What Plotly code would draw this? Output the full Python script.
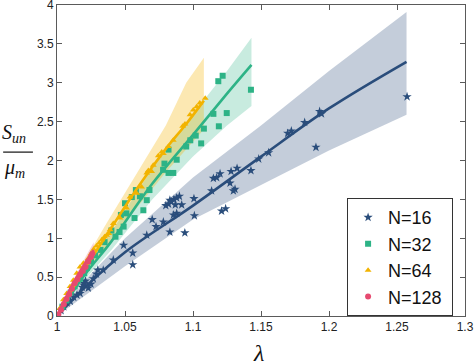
import plotly.graph_objects as go

# ---------------- data ----------------
# N=16 scatter (stars)
n16_lam = [1.2574, 1.1931, 1.1945, 1.1821, 1.1904, 1.1696, 1.1723, 1.1556, 1.1483, 1.1426,
           1.1324, 1.1280, 1.1150, 1.1174, 1.1199, 1.1272, 1.1309, 1.1297, 1.1210, 1.1240,
           1.1007, 1.1137, 1.1010, 1.0940, 1.0880, 1.0856, 1.0917, 1.0800, 1.0820, 1.0840,
           1.0860, 1.0880, 1.0900, 1.0830, 1.0870, 1.0782, 1.0830, 1.0728, 1.0700, 1.0660,
           1.0557, 1.0557, 1.0490, 1.0414, 1.0340, 1.0300, 1.0290, 1.0267, 1.0210, 1.0195,
           1.0185, 1.0200, 1.0170, 1.0147, 1.0123, 1.0098, 1.0074, 1.0050, 1.0030, 1.0230,
           1.0250]
n16_val = [2.82, 2.63, 2.60, 2.49, 2.17, 2.35, 2.38, 2.10, 2.02, 1.87,
           1.90, 1.86, 1.77, 1.78, 1.83, 1.71, 1.63, 1.61, 1.35, 1.38,
           1.51, 1.61, 1.29, 1.07, 1.32, 1.30, 1.43, 1.42, 1.44, 1.47,
           1.50, 1.52, 1.54, 1.49, 1.43, 1.21, 1.08, 1.15, 1.24, 1.04,
           0.66, 0.81, 0.91, 0.72, 0.59, 0.59, 0.54, 0.48, 0.45, 0.40,
           0.37, 0.42, 0.29, 0.27, 0.24, 0.19, 0.17, 0.12, 0.07, 0.36,
           0.41]

# N=32 scatter (squares)
n32_lam = [1.1426, 1.1218, 1.1186, 1.1248, 1.1150, 1.1190, 1.1080, 1.1060, 1.1020, 1.0980,
           1.0950, 1.0880, 1.0820, 1.0820, 1.0855, 1.0780, 1.0790, 1.0680, 1.0635, 1.0660,
           1.0610, 1.0570, 1.0510, 1.0490, 1.0460, 1.0430, 1.0580, 1.0550, 1.0500, 1.0470,
           1.0400, 1.0350, 1.0320, 1.0280, 1.0250, 1.0220, 1.0200, 1.0170, 1.0130, 1.0100,
           1.0070, 1.0040]
n32_val = [2.91, 3.09, 3.02, 2.61, 2.60, 2.44, 2.41, 2.22, 2.32, 2.26,
           2.18, 2.01, 2.14, 1.84, 1.84, 1.88, 1.96, 1.62, 1.36, 1.49,
           1.54, 1.26, 1.32, 1.15, 1.08, 1.02, 1.62, 1.53, 1.45, 1.30,
           1.10, 0.95, 0.85, 0.78, 0.70, 0.62, 0.55, 0.48, 0.38, 0.30,
           0.20, 0.12]

# N=64 scatter (triangles)
n64_lam = [1.1090, 1.1050, 1.1027, 1.1002, 1.0978, 1.0941, 1.0924, 1.0855, 1.0819, 1.0782,
           1.0745, 1.0708, 1.0672, 1.0660, 1.0770, 1.0696, 1.0622, 1.0586, 1.0537, 1.0512,
           1.0463, 1.0414, 1.0390, 1.0365, 1.0330, 1.0310, 1.0290, 1.0350, 1.0380, 1.0270,
           1.0250, 1.0230, 1.0194, 1.0169, 1.0145, 1.0120, 1.0096, 1.0071, 1.0047, 1.0022]
n64_val = [2.80, 2.74, 2.69, 2.65, 2.59, 2.47, 2.44, 2.26, 2.18, 2.09,
           2.06, 1.94, 1.87, 1.84, 2.11, 1.86, 1.66, 1.58, 1.53, 1.39,
           1.26, 1.19, 1.11, 1.04, 0.98, 0.94, 0.90, 1.02, 1.06, 0.86,
           0.80, 0.74, 0.68, 0.63, 0.55, 0.46, 0.38, 0.29, 0.21, 0.10]

# N=128 scatter (circles)
n128_lam = [1.0000, 1.0010, 1.0030, 1.0050, 1.0070, 1.0090, 1.0110, 1.0130, 1.0150, 1.0170,
            1.0190, 1.0210, 1.0230, 1.0250, 1.0260]
n128_val = [0.00, 0.02, 0.08, 0.15, 0.22, 0.28, 0.35, 0.42, 0.47, 0.53,
            0.58, 0.63, 0.70, 0.76, 0.80]

# fitted curves and confidence bands
fit16_lam = [1.0, 1.02, 1.05, 1.10, 1.15, 1.20, 1.257]
fit16_val = [0.0, 0.36, 0.82, 1.42, 2.05, 2.67, 3.27]
fit16_up = [0.0, 0.45, 1.00, 1.78, 2.45, 3.15, 3.91]
fit16_lo = [0.0, 0.26, 0.64, 1.24, 1.68, 2.13, 2.59]

fit32_lam = [1.0, 1.02, 1.04, 1.07, 1.10, 1.125, 1.143]
fit32_val = [0.0, 0.52, 0.96, 1.70, 2.33, 2.86, 3.23]
fit32_up = [0.0, 0.58, 1.08, 1.90, 2.60, 3.15, 3.58]
fit32_lo = [0.0, 0.46, 0.85, 1.50, 2.05, 2.45, 2.70]

fit64_lam = [1.0, 1.02, 1.035, 1.06, 1.08, 1.095, 1.108]
fit64_val = [0.0, 0.60, 1.00, 1.67, 2.15, 2.47, 2.77]
fit64_up = [0.0, 0.70, 1.15, 1.87, 2.45, 3.00, 3.32]
fit64_lo = [0.0, 0.50, 0.85, 1.42, 1.85, 2.15, 2.40]

fit128_lam = [1.0, 1.01, 1.02, 1.027]
fit128_val = [0.0, 0.36, 0.66, 0.85]
fit128_up = [0.0, 0.40, 0.73, 0.95]
fit128_lo = [0.0, 0.32, 0.60, 0.77]

names = ["N=16", "N=32", "N=64", "N=128"]
x_ticks = [1, 1.05, 1.1, 1.15, 1.2, 1.25, 1.3]
x_ticklabels = ["1", "1.05", "1.1", "1.15", "1.2", "1.25", "1.3"]
y_ticks = [0, 0.5, 1, 1.5, 2, 2.5, 3, 3.5, 4]
y_ticklabels = ["0", "0.5", "1", "1.5", "2", "2.5", "3", "3.5", "4"]

# ---------------- styling ----------------
colors = ["#2a4d7b", "#2db386", "#f2b300", "#e64a70"]
band_colors = ["rgba(42,77,123,0.28)", "rgba(43,179,132,0.26)",
               "rgba(245,180,0,0.30)", "rgba(230,74,112,0.25)"]
symbols = ["star", "square", "triangle-up", "circle"]
msizes = [7, 6, 6, 6]

scatter = [(n16_lam, n16_val), (n32_lam, n32_val), (n64_lam, n64_val), (n128_lam, n128_val)]
fits = [(fit16_lam, fit16_val, fit16_up, fit16_lo),
        (fit32_lam, fit32_val, fit32_up, fit32_lo),
        (fit64_lam, fit64_val, fit64_up, fit64_lo),
        (fit128_lam, fit128_val, fit128_up, fit128_lo)]

fig = go.Figure()

# bands
for i, (lam, val, up, lo) in enumerate(fits):
    fig.add_trace(go.Scatter(
        x=list(lam) + list(lam[::-1]), y=list(up) + list(lo[::-1]),
        fill="toself", fillcolor=band_colors[i], line=dict(width=0),
        mode="lines", hoverinfo="skip", showlegend=False))

# lines + markers
for i, (lam, val, up, lo) in enumerate(fits):
    fig.add_trace(go.Scatter(
        x=lam, y=val, mode="lines", line=dict(color=colors[i], width=2.6, shape="spline"),
        showlegend=False, hoverinfo="skip"))
    sx, sy = scatter[i]
    fig.add_trace(go.Scatter(
        x=sx, y=sy, mode="markers", name=names[i] + "\u00a0",
        marker=dict(symbol=symbols[i], size=msizes[i], color=colors[i], line=dict(width=0))))

axis_common = dict(showline=True, mirror="ticks", linecolor="#5a5a5a", linewidth=1,
                   ticks="inside", ticklen=5, tickcolor="#5a5a5a", showgrid=False,
                   zeroline=False, automargin=False, ticklabeloverflow="allow",
                   tickfont=dict(family="Liberation Sans, Arial", size=12, color="#222"))

fig.update_layout(
    width=474, height=361,
    margin=dict(l=57, r=9, t=5, b=45, autoexpand=False),
    paper_bgcolor="white", plot_bgcolor="white",
    xaxis=dict(range=[1, 1.3], tickvals=x_ticks, ticktext=x_ticklabels, **axis_common),
    yaxis=dict(range=[0, 4], tickvals=y_ticks, ticktext=y_ticklabels, **axis_common),
    legend=dict(x=0.711, y=0.379, xanchor="left", yanchor="top",
                bordercolor="#333", borderwidth=1, bgcolor="white",
                font=dict(family="Liberation Sans, Arial", size=18, color="#111"),
                itemsizing="trace", tracegroupgap=0),
    showlegend=True,
)

# y-axis title as a fraction
fig.add_annotation(xref="paper", yref="paper", x=-0.105, y=0.54, xanchor="center", yanchor="bottom",
                   text="<i>S<sub>un</sub></i>", showarrow=False,
                   font=dict(family="Liberation Serif, DejaVu Serif", size=20, color="#111"))
fig.add_annotation(xref="paper", yref="paper", x=-0.105, y=0.52, xanchor="center", yanchor="top",
                   text="<i>μ<sub>m</sub></i>", showarrow=False,
                   font=dict(family="Liberation Serif, DejaVu Serif", size=20, color="#111"))
fig.add_shape(type="line", xref="paper", yref="paper", x0=-0.132, x1=-0.059,
              y0=0.527, y1=0.527, line=dict(color="#111", width=1.2))
# x-axis title
fig.add_annotation(xref="paper", yref="paper", x=0.495, y=-0.072, xanchor="center", yanchor="top",
                   text="<i>λ</i>", showarrow=False,
                   font=dict(family="Liberation Serif, DejaVu Serif", size=24, color="#111"))

fig.write_html("out.html", config={"displayModeBar": False},
               post_script="document.body.style.margin='0px';document.body.style.overflow='hidden';")
